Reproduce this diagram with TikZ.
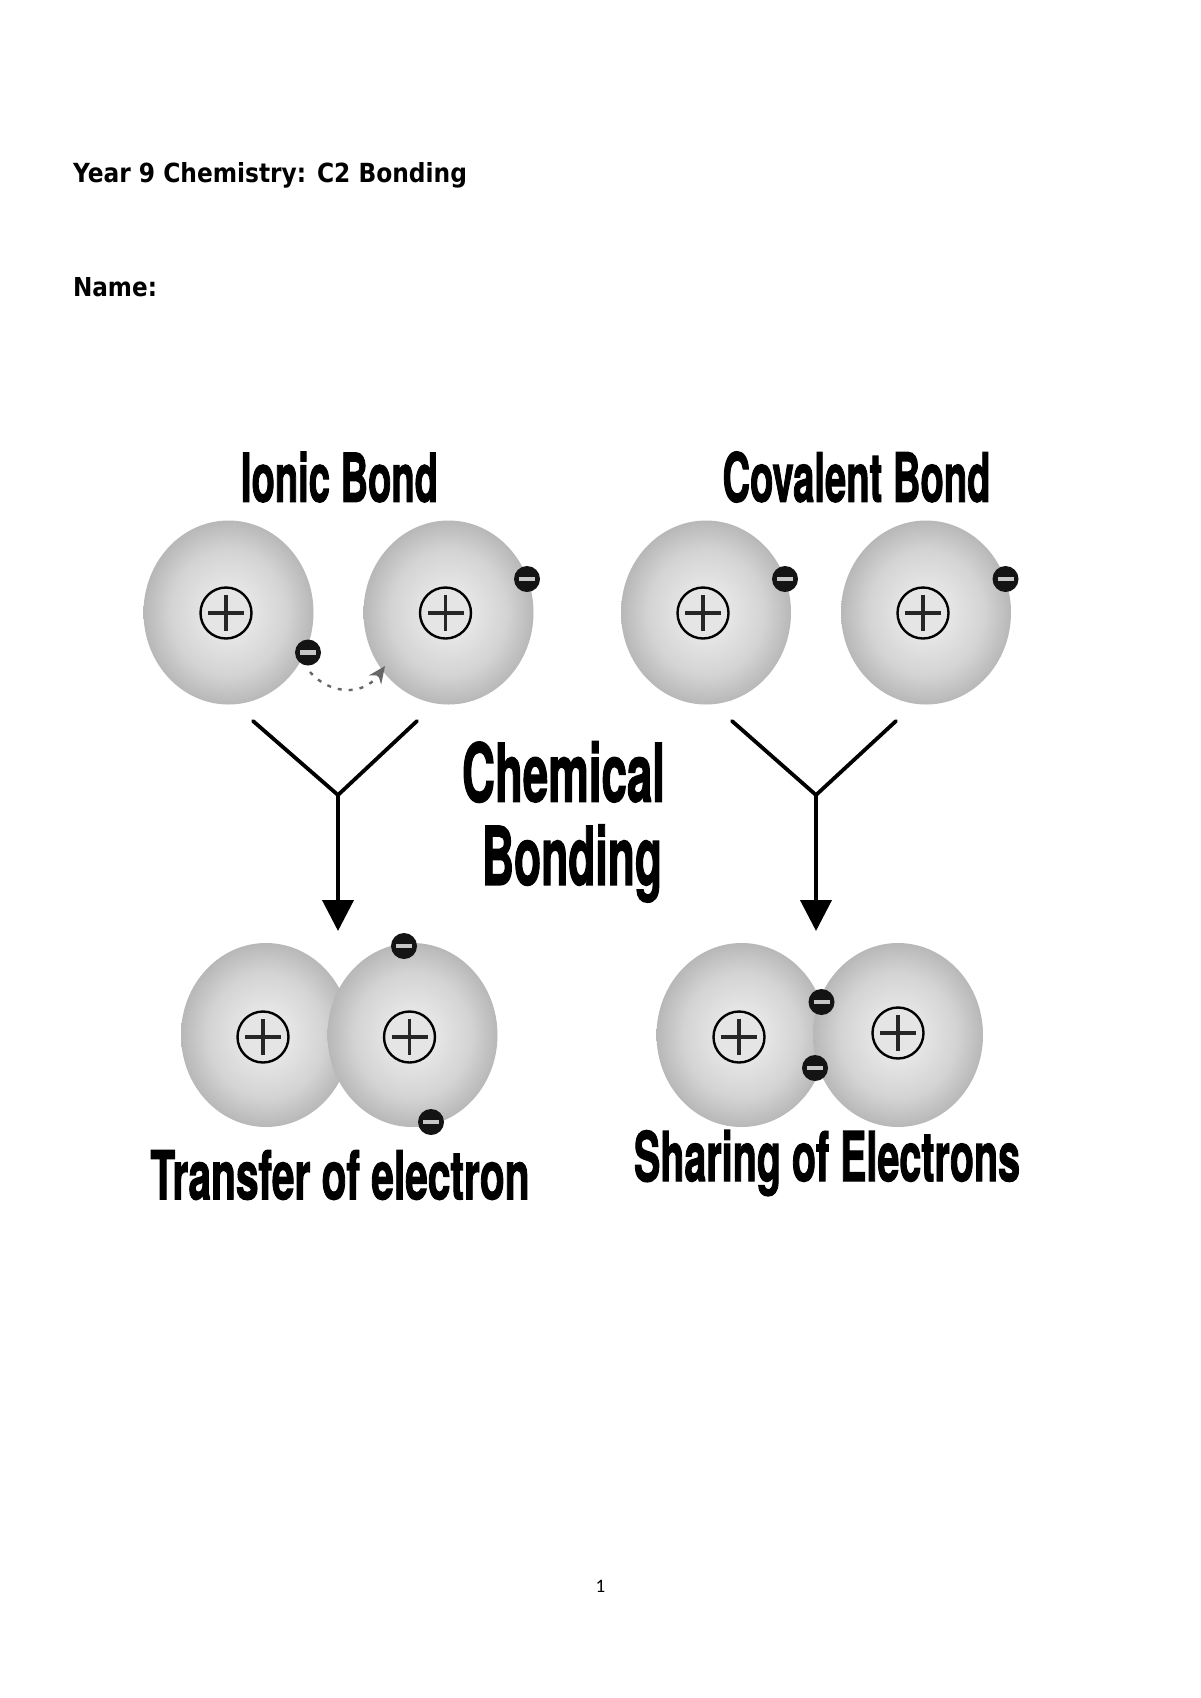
\documentclass[tikz,border=0pt]{standalone}
\usepackage{fontspec}
\usepackage{graphicx}
\usetikzlibrary{shapes.geometric,arrows.meta}
\setmainfont{DejaVu Sans}
\newfontfamily\headfont[BoldFeatures={FakeBold=2}]{TeX Gyre Heros}
\newfontfamily\pagefont{Carlito}
\newcommand{\fitlabel}[3]{\resizebox{#1pt}{#2pt}{\headfont\bfseries #3}}
\definecolor{atomlight}{gray}{0.90}
\definecolor{atommid}{gray}{0.83}
\definecolor{atomedge}{gray}{0.72}
\pgfdeclareradialshading{atomshade}{\pgfpointorigin}{
  color(0bp)=(atomlight); color(7bp)=(atomlight); color(17bp)=(atommid);
  color(25bp)=(atomedge); color(50bp)=(atomedge)}
\tikzset{
  atom/.style={ellipse,minimum width=170pt,minimum height=184pt,inner sep=0pt,outer sep=0pt,shading=atomshade},
  nucleus/.style={circle,draw=black,line width=2.4pt,fill=none,minimum size=51pt,inner sep=0pt,
    path picture={
      \draw[line width=3.3pt,black!85] ([xshift=-18pt]path picture bounding box.center) -- ([xshift=18pt]path picture bounding box.center);
      \draw[line width=3.3pt,black!85] ([yshift=-18pt]path picture bounding box.center) -- ([yshift=18pt]path picture bounding box.center);
    }},
  electron/.style={circle,fill=black!92,minimum size=26pt,inner sep=0pt,
    path picture={\draw[line width=4.5pt,white!78!black] ([xshift=-8pt]path picture bounding box.center) -- ([xshift=8pt]path picture bounding box.center);}},
  forkline/.style={line width=3.8pt,black,line cap=round},
  stemline/.style={line width=4pt,black,-{Triangle[length=31pt,width=31pt]}},
  label/.style={inner sep=0pt,outer sep=0pt,text=black},
  head/.style={inner sep=0pt,outer sep=0pt,anchor=base west,text=black,font=\fontsize{25pt}{30pt}\selectfont\bfseries},
}
\begin{document}
\begin{tikzpicture}[x=1pt,y=-1pt]
\useasboundingbox (0,0) rectangle (1200,1698);
\fill[white] (0,0) rectangle (1200,1698);

\node[head] (title) at (73,182) {\resizebox{394pt}{20pt}{Year 9 Chemistry: C2 Bonding}};
\node[head] (name) at (73,296) {\resizebox{84pt}{19pt}{Name:}};

\node[label] (ionic) at (339.5,477) {\fitlabel{197}{50}{Ionic Bond}};
\node[label] (covalent) at (856.5,477) {\fitlabel{268}{50}{Covalent Bond}};
\node[label] (chem) at (563.5,772) {\fitlabel{203}{60}{Chemical}};
\node[label] (bond) at (572,863.5) {\fitlabel{180}{60}{Bonding}};
\node[label] (transfer) at (340,1175) {\fitlabel{379}{49}{Transfer of electron}};
\node[label] (sharing) at (827,1163) {\fitlabel{386}{51}{Sharing of Electrons}};

% top row
\node[atom] (a1) at (228.5,612.5) {};
\node[atom] (a2) at (448.5,612.5) {};
\node[atom] (a3) at (706,612.5) {};
\node[atom] (a4) at (926,612.5) {};
\node[nucleus] (n1) at (226,613) {};
\node[nucleus] (n2) at (445.5,613) {};
\node[nucleus] (n3) at (703,613) {};
\node[nucleus] (n4) at (923,613) {};
\node[electron] (e1) at (308,652.5) {};
\node[electron] (e2) at (527,579) {};
\node[electron] (e3) at (785,579) {};
\node[electron] (e4) at (1005.5,579) {};

% transfer arrow
\coordinate (ts) at (310,672);
\coordinate (te) at (385,666);
\draw[line width=2.4pt,black!60,dash pattern=on 4pt off 7pt,-{Stealth[length=17pt,width=15pt]}]
  (ts) .. controls (328,693) and (362,698) .. (te);

% forks
\coordinate (f1l) at (253,721);
\coordinate (f1r) at (417,721);
\coordinate (f1j) at (338,795);
\coordinate (f1t) at (338,931);
\coordinate (f2l) at (732,721);
\coordinate (f2r) at (896,721);
\coordinate (f2j) at (816,795);
\coordinate (f2t) at (816,931);
\draw[forkline] (f1l) -- (f1j) -- (f1r);
\draw[stemline] (f1j) -- (f1t);
\draw[forkline] (f2l) -- (f2j) -- (f2r);
\draw[stemline] (f2j) -- (f2t);

% bottom row
\node[atom] (b1) at (266,1035) {};
\node[atom] (b2) at (412.5,1035) {};
\node[atom] (b3) at (741.5,1035) {};
\node[atom] (b4) at (898,1035) {};
\node[nucleus] (m1) at (263,1037) {};
\node[nucleus] (m2) at (409.5,1037) {};
\node[nucleus] (m3) at (739,1037) {};
\node[nucleus] (m4) at (898,1033) {};
\node[electron] (g1) at (404,946) {};
\node[electron] (g2) at (431,1122) {};
\node[electron] (g3) at (821.5,1002) {};
\node[electron] (g4) at (815,1068) {};

\node[inner sep=0pt,anchor=base,font=\pagefont\fontsize{19pt}{20pt}\selectfont] (page) at (600.5,1592) {1};
\end{tikzpicture}
\end{document}
